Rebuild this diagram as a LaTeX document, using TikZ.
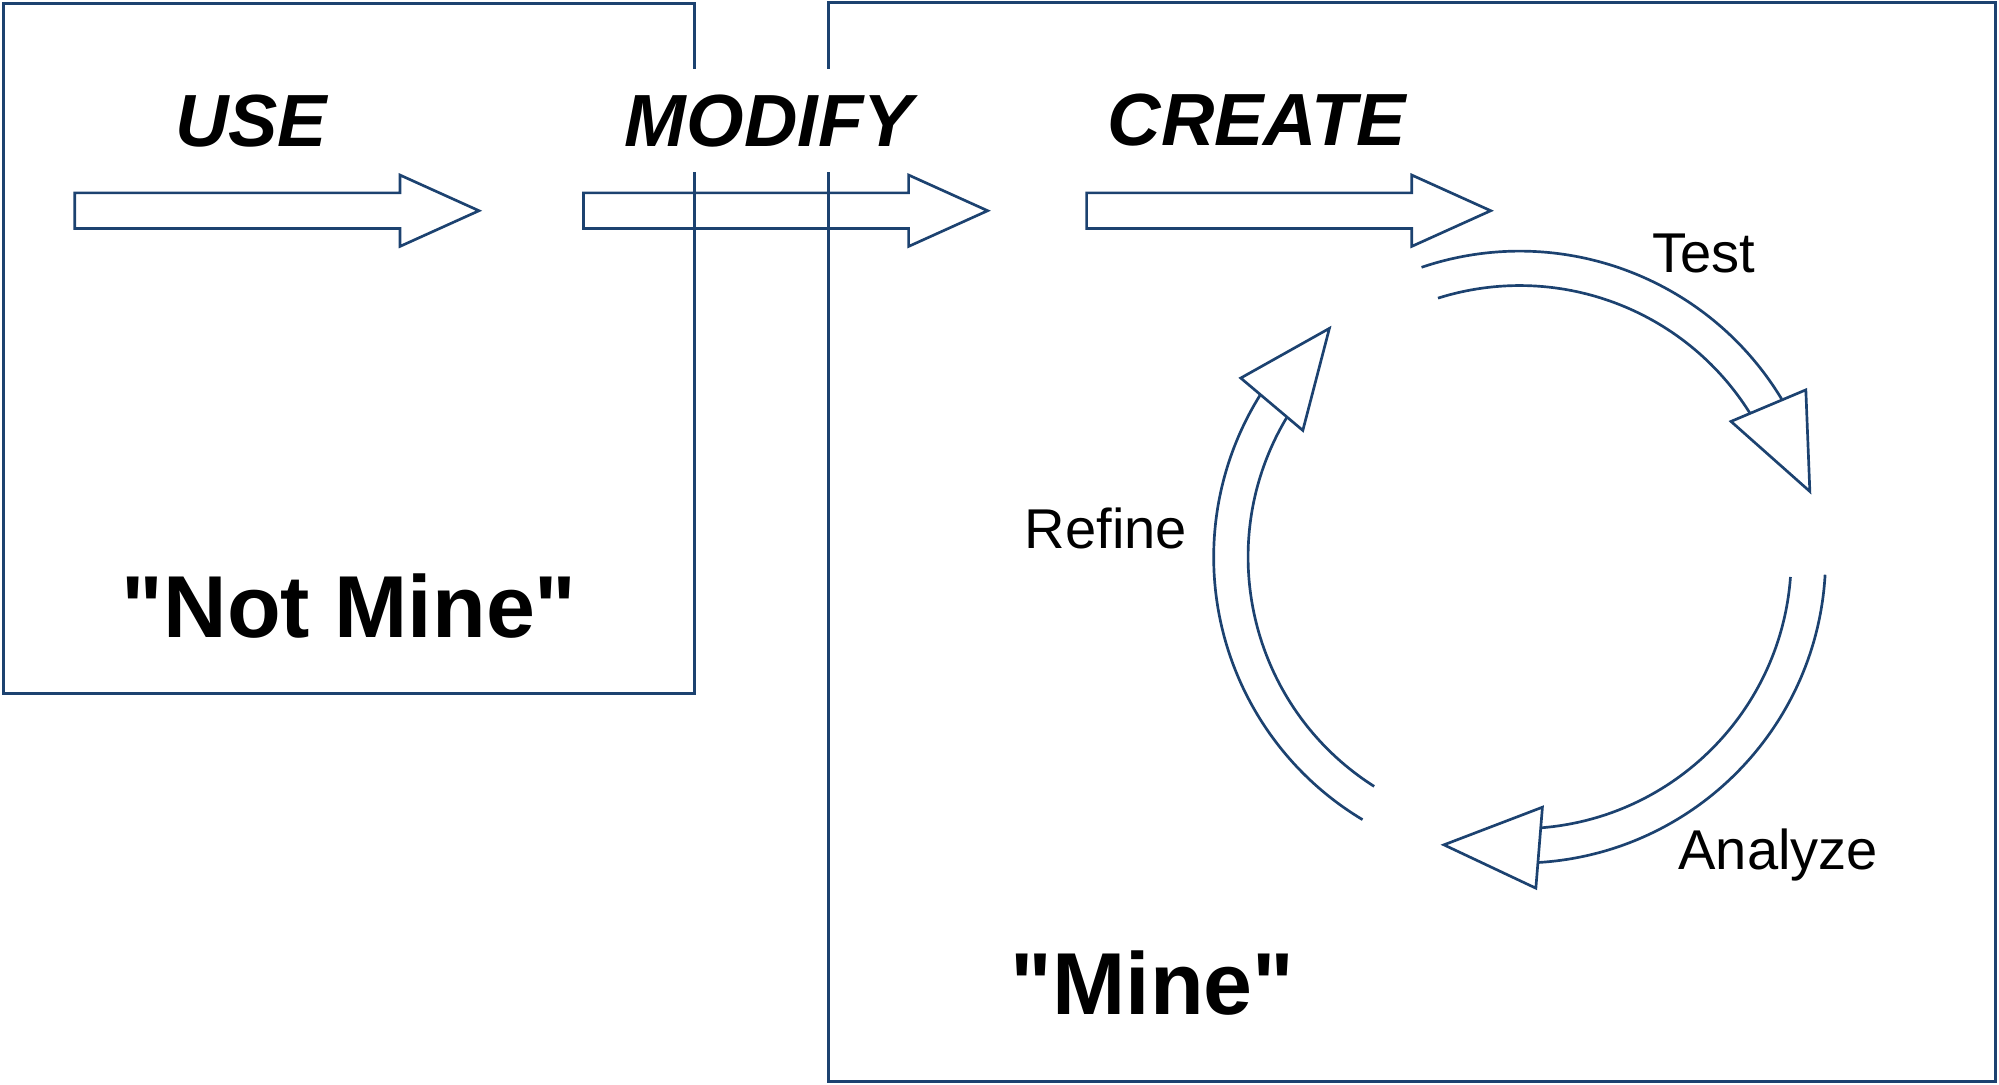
\documentclass[tikz,border=0pt]{standalone}
\usepackage{fontspec}
\setmainfont{Liberation Sans}
\usepackage{tikz}
\usetikzlibrary{calc}
\definecolor{boxblue}{RGB}{28,66,112}

\begin{document}
\begin{tikzpicture}[x=0.5pt,y=0.5pt,
    boxline/.style={boxblue,line width=1.05pt},
    stage/.style={font=\fontsize{29}{34}\selectfont\bfseries\itshape,inner sep=0pt,anchor=base},
    owner/.style={font=\fontsize{34.5}{40}\selectfont\bfseries,inner sep=0pt,anchor=base},
    phase/.style={font=\fontsize{22}{26}\selectfont,inner sep=0pt,anchor=base},
    flowarrow/.pic={\draw[boxline] (0,-14) -- (255,-14) -- (255,-28) -- (317,0) -- (255,28) -- (255,14) -- (0,14) -- cycle;}]
    \useasboundingbox (0,0) rectangle (1568,851);

    % the two boxes, open where MODIFY crosses them
    \draw[boxline] (545,797) -- (545,848) -- (2.5,848) -- (2.5,307) -- (545,307) -- (545,716);
    \draw[boxline] (650,797) -- (650,849) -- (1565,849) -- (1565,2.5) -- (650,2.5) -- (650,716);

    \node[stage] (usetxt) at (197,736) {USE};
    \node[stage] (modifytxt) at (603,736) {MODIFY};
    \node[stage] (createtxt) at (986,737) {CREATE};

    \pic (usearrow) at (58.7,685.7) {flowarrow};
    \pic (modifyarrow) at (457.7,685.7) {flowarrow};
    \pic (createarrow) at (852.3,685.7) {flowarrow};

    \node[owner] (notmine) at (274,350.6) {\textquotedbl Not Mine\textquotedbl};
    \node[owner] (mine) at (904,55) {\textquotedbl Mine\textquotedbl};

    % cycle
    \coordinate (cyc) at (1192,414);
    \foreach \so/\si/\e in {108.7/107.5/31.5, -3.3/-4.2/-86, -120.9/-122.4/-211.5} {
      \draw[boxline] ($(cyc)+(\so:240)$) arc[start angle=\so, end angle=\e-0.4, radius=240];
      \draw[boxline] ($(cyc)+(\si:213)$) arc[start angle=\si, end angle=\e+0.5, radius=213];
      \draw[boxline] ($(cyc)+(\e+1.2:197)$) -- ($(cyc)+(\e-1.2:260)$) -- ($(cyc)+(\e:221)+(\e-90:75)$) -- cycle;
    }

    \node[phase] (testtxt) at (1336.5,637) {Test};
    \node[phase] (refinetxt) at (867.5,421) {Refine};
    \node[phase] (analyzetxt) at (1394.8,168.6) {Analyze};
\end{tikzpicture}
\end{document}
